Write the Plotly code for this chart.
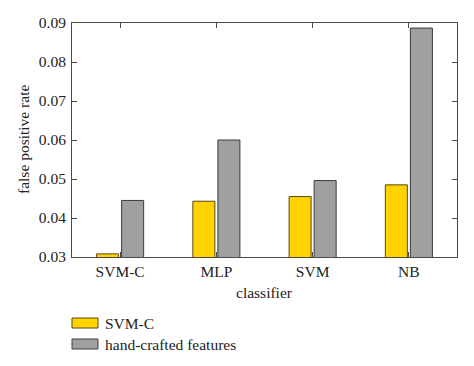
import plotly.graph_objects as go

categories = ["SVM-C", "MLP", "SVM", "NB"]
svmc_values = [0.0308, 0.0443, 0.0455, 0.0485]
handcrafted_values = [0.0445, 0.0600, 0.0496, 0.0887]
series_names = ["SVM-C", "hand-crafted features"]
series_colors = ["#FFD200", "#A0A0A0"]
series_edges = ["#5a4a10", "#3c3c3c"]
y_ticks = [0.03, 0.04, 0.05, 0.06, 0.07, 0.08, 0.09]

# the page body adds an 8px margin; lay out in page pixels and compensate
OFF = 8
PAGE_W, PAGE_H = 474, 366
W, H = PAGE_W - OFF, PAGE_H - OFF
PL, PR, PT, PB = 72, 457, 23, 257          # plot box in page pixels
L, T = PL - OFF, PT - OFF
R, B = W - (PR - OFF), H - (PB - OFF)
PW, PH = W - L - R, H - T - B
FONT = "Liberation Serif"
FS = 15.5
AX = "#4a4a4a"
TXT = "#222222"


def px_x(p):
    return (p - PL) / PW


def px_y(p):
    return (PB - p) / PH


fig = go.Figure()
for vals, name, col, edge in zip([svmc_values, handcrafted_values], series_names,
                                 series_colors, series_edges):
    fig.add_trace(go.Bar(x=categories, y=vals, name=name, showlegend=False,
                         marker=dict(color=col, line=dict(color=edge, width=1))))

# manual legend (wide rectangular swatches like the reference)
shapes = []
annotations = []
legend_rows = [323, 344]
for name, col, edge, yc in zip(series_names, series_colors, series_edges, legend_rows):
    shapes.append(dict(type="rect", xref="paper", yref="paper",
                       x0=px_x(72), x1=px_x(98), y0=px_y(yc + 5), y1=px_y(yc - 5),
                       fillcolor=col, line=dict(color=edge, width=1)))
    annotations.append(dict(xref="paper", yref="paper", x=px_x(103), y=px_y(yc),
                            xanchor="left", yanchor="middle", showarrow=False,
                            text=name, font=dict(family=FONT, size=FS, color=TXT)))

# axis titles
annotations.append(dict(xref="paper", yref="paper", x=0.5, y=px_y(292),
                        xanchor="center", yanchor="middle", showarrow=False,
                        text="classifier", font=dict(family=FONT, size=FS, color=TXT)))
annotations.append(dict(xref="paper", yref="paper", x=px_x(23), y=0.5, textangle=-90,
                        xanchor="center", yanchor="middle", showarrow=False,
                        text="false positive rate", font=dict(family=FONT, size=FS, color=TXT)))

fig.update_layout(
    width=W, height=H,
    margin=dict(l=L, r=R, t=T, b=B, autoexpand=False),
    paper_bgcolor="white", plot_bgcolor="white",
    barmode="group", bargap=0.48, bargroupgap=0.12,
    font=dict(family=FONT, size=FS, color=TXT),
    showlegend=False,
    shapes=shapes, annotations=annotations,
)
fig.update_xaxes(
    range=[-0.5, 3.5], showline=True, linecolor=AX, linewidth=1, mirror="ticks",
    ticks="inside", ticklen=5, tickcolor=AX, showgrid=False, zeroline=False,
    tickfont=dict(family=FONT, size=FS, color=TXT), automargin=False,
)
fig.update_yaxes(
    range=[0.03, 0.09], tickvals=y_ticks, tickformat=".2f",
    showline=True, linecolor=AX, linewidth=1, mirror="ticks",
    ticks="inside", ticklen=5, tickcolor=AX, showgrid=False, zeroline=False,
    tickfont=dict(family=FONT, size=FS, color=TXT), automargin=False,
    ticklabelstandoff=2,
)

fig.write_html("out.html")
